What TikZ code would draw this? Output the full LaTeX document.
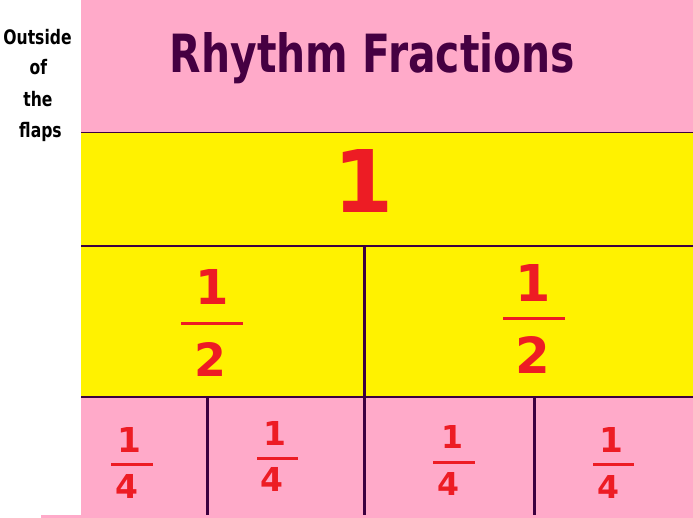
\documentclass[tikz,border=0pt]{standalone}
\usepackage{fontspec}
\setmainfont{DejaVu Sans}
\usepackage{graphicx}
\definecolor{flappink}{RGB}{255,170,201}
\definecolor{flapyellow}{RGB}{255,242,0}
\definecolor{fracred}{RGB}{237,28,36}
\definecolor{titlepurple}{RGB}{70,0,66}
\definecolor{linepurple}{RGB}{60,0,64}
\begin{document}
\begin{tikzpicture}[x=1pt,y=-1pt,
  txt/.style={inner sep=0pt,outer sep=0pt,anchor=base,font=\bfseries},
  side/.style={txt,text=black,font=\fontsize{20}{24}\selectfont\bfseries},
  num/.style={txt,text=fracred},
  divider/.style={draw=linepurple,line width=3pt},
  rule/.style={draw=linepurple,line width=1.5pt},
  bar/.style={draw=fracred,line width=3pt}]
\useasboundingbox (0,0) rectangle (693,518);
\fill[white] (0,0) rectangle (693,518);
% bands
\fill[flappink] (81,0) rectangle (693,133);
\fill[flapyellow] (81,133) rectangle (693,397);
\fill[flappink] (81,397) rectangle (693,518);
\fill[flappink] (41,515) rectangle (81,518);
% rules
\draw[rule,line width=1pt] (81,133) -- (693,133);
\draw[rule] (81,246) -- (693,246);
\draw[rule] (81,397) -- (693,397);
\draw[divider] (364,246) -- (364,397);
\draw[divider] (207,397) -- (207,515);
\draw[divider] (364,397) -- (364,515);
\draw[divider] (534,397) -- (534,515);
% side label
\node[side] (s1) at (37.5,45) {\scalebox{0.78}[1]{Outside}};
\node[side] (s2) at (38.5,75) {\scalebox{0.78}[1]{of}};
\node[side] (s3) at (38,107) {\scalebox{0.78}[1]{the}};
\node[side] (s4) at (40.5,138) {\scalebox{0.78}[1]{flaps}};
% title
\node[txt,text=titlepurple] (title) at (372.5,73) {\resizebox{405pt}{40pt}{Rhythm Fractions}};
% whole
\node[num] (whole) at (364,213) {\resizebox{!}{63pt}{1}};
% halves
\node[num] (h1n) at (212,305) {\resizebox{!}{35pt}{1}};
\draw[bar] (181,324) -- (243,324);
\node[num] (h1d) at (210,376) {\resizebox{!}{34pt}{2}};
\node[num] (h2n) at (533,302) {\resizebox{!}{37pt}{1}};
\draw[bar] (503,319) -- (565,319);
\node[num] (h2d) at (533,373) {\resizebox{!}{37pt}{2}};
% quarters
\node[num] (q1n) at (129,452) {\resizebox{!}{25pt}{1}};
\draw[bar] (111,464) -- (153,464);
\node[num] (q1d) at (127,498) {\resizebox{!}{24pt}{4}};
\node[num] (q2n) at (275,445) {\resizebox{!}{24pt}{1}};
\draw[bar] (257,458) -- (298,458);
\node[num] (q2d) at (272,491) {\resizebox{!}{24pt}{4}};
\node[num] (q3n) at (452,448) {\resizebox{!}{23pt}{1}};
\draw[bar] (433,462) -- (475,462);
\node[num] (q3d) at (448,495) {\resizebox{!}{23pt}{4}};
\node[num] (q4n) at (611,452) {\resizebox{!}{25pt}{1}};
\draw[bar] (593,464) -- (634,464);
\node[num] (q4d) at (608,498) {\resizebox{!}{23pt}{4}};
\end{tikzpicture}
\end{document}
